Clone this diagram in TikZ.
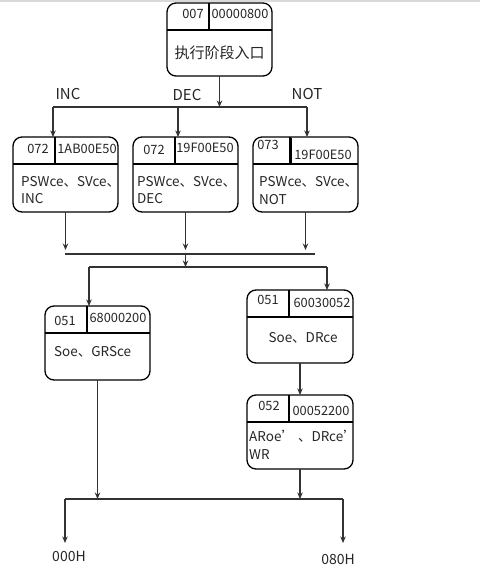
\documentclass[tikz,border=0pt]{standalone}
\usepackage{fontspec}
\setmainfont{Noto Sans CJK SC}
\usetikzlibrary{arrows.meta}
\newcommand\ubox[7]{%
  \pgfmathsetmacro\myBW{#4-#2}\pgfmathsetmacro\myBH{#5-#3}%
  \node[box,minimum width=\myBW pt,minimum height=\myBH pt] (#1) at (#2,#3) {};
  \draw[div] (#2,#6) -- (#4,#6);
  \draw[div] (#7,#3) -- (#7,#6);}
\begin{document}
\begin{tikzpicture}[x=1pt,y=-1pt,
  box/.style={draw=black,line width=1.3pt,rounded corners=9pt,inner sep=0pt,outer sep=0pt,anchor=north west},
  div/.style={draw=black,line width=1.1pt},
  conn/.style={draw=black!80,line width=1.1pt},
  arr/.style={conn,-{Stealth[length=6.5pt,width=5.5pt]}},
  code/.style={inner sep=0pt,anchor=mid,font=\fontsize{12.8}{14}\selectfont,text=black!85},
  body/.style={inner sep=0pt,anchor=mid west,font=\fontsize{13.5}{16}\selectfont,text=black!85,yshift=-1.5pt},
  lab/.style={inner sep=0pt,anchor=mid,font=\fontsize{15}{18}\selectfont,text=black!85,yshift=-3.5pt}]
\useasboundingbox (0,0) rectangle (480,581);
\fill[white] (0,0) rectangle (480,581);
\draw[black!15,line width=1.5pt] (0,0.75) -- (480,0.75);

% top box
\ubox{b0}{167}{3}{272}{76}{30}{209}
\node[code] (t0a) at (193,16) {007};
\node[code] (t0b) at (240,16) {00000800};
\node[lab] (t0c) at (219.5,52) {执行阶段入口};

% labels
\node[lab] (linc) at (68,93) {INC};
\node[lab] (ldec) at (187,94) {DEC};
\node[lab] (lnot) at (307,93) {NOT};

% row 1
\ubox{b1}{13}{137}{118}{212}{164}{55}
\node[code] (t1a) at (38,151) {072};
\node[code] (t1b) at (87,151) {1AB00E50};
\node[body] (t1c) at (21,182) {PSWce、SVce、};
\node[body] (t1d) at (21,199) {INC};

\ubox{b2}{133}{137}{238}{212}{164}{175}
\node[code] (t2a) at (154,152) {072};
\node[code] (t2b) at (205,150) {19F00E50};
\node[body] (t2c) at (137,182) {PSWce、SVce、};
\node[body] (t2d) at (137,199) {DEC};

\ubox{b3}{253}{137}{358}{212}{164}{290}
\draw[black,line width=3pt] (290,138) -- (290,164);
\node[code] (t3a) at (268,147) {073};
\node[code] (t3b) at (323,157) {19F00E50};
\node[body] (t3c) at (259,182) {PSWce、SVce、};
\node[body] (t3d) at (259,200) {NOT};

% row 2
\ubox{b4}{45}{306}{150}{380}{333}{87}
\node[code] (t4a) at (65,323) {051};
\node[code] (t4b) at (118,320) {68000200};
\node[body] (t4c) at (54,352) {Soe、GRSce};

\ubox{b5}{247}{290}{353}{363}{317}{289}
\node[code] (t5a) at (268,302) {051};
\node[code] (t5b) at (322,305) {60030052};
\node[body,anchor=mid] (t5c) at (303,338) {Soe、DRce};

\ubox{b6}{247}{395}{353}{469}{422}{289}
\node[code] (t6a) at (269,408) {052};
\node[code] (t6b) at (321,413) {00052200};
\begin{scope}
\clip (247,422) rectangle (352,469);
\node[body] (t6c) at (249,437) {ARoe’ 、DRce’、};
\end{scope}
\node[body] (t6d) at (249,455) {WR};

% connectors
\coordinate (j0) at (219.5,107);
\coordinate (h1l) at (53,107);
\coordinate (h1m) at (178,107);
\coordinate (h1r) at (307,107);
\draw[arr] (b0) -- (j0);
\draw[conn] (h1l) -- (h1r);
\draw[arr] (h1l) -- (h1l |- b1.north);
\draw[arr] (h1m) -- (h1m |- b2.north);
\draw[arr] (h1r) -- (h1r |- b3.north);

\coordinate (e1) at (65.5,250);
\coordinate (e2) at (185.5,250);
\coordinate (e3) at (305.5,250);
\draw[arr] (b1) -- (e1);
\draw[arr] (b2) -- (e2);
\draw[arr] (b3) -- (e3);
\coordinate (h2l) at (65,254);
\coordinate (h2m) at (185.5,254);
\coordinate (h2r) at (315,254);
\draw[conn] (h2l) -- (h2r);
\coordinate (h3l) at (89,267);
\coordinate (h3m) at (185.5,267);
\coordinate (h3r) at (327,267);
\draw[arr] (h2m) -- (h3m);
\draw[conn] (h3l) -- (h3r);
\draw[arr] (h3l) -- (h3l |- b4.north);
\draw[arr] (h3r) -- (h3r |- b5.north);
\draw[arr] (b5) -- (b6);

\coordinate (e4) at (97.5,499);
\coordinate (e6) at (300,499);
\coordinate (h4l) at (65,499);
\coordinate (h4r) at (343,499);
\draw[arr] (b4) -- (e4);
\draw[arr] (b6) -- (e6);
\draw[conn] (h4l) -- (h4r);
\coordinate (o1) at (65,543);
\coordinate (o2) at (343,543);
\draw[arr] (h4l) -- (o1);
\draw[arr] (h4r) -- (o2);
\node[lab,font=\fontsize{14}{16}\selectfont] (l000) at (69,555) {000H};
\node[lab,font=\fontsize{14}{16}\selectfont] (l080) at (338,558) {080H};
\end{tikzpicture}
\end{document}
